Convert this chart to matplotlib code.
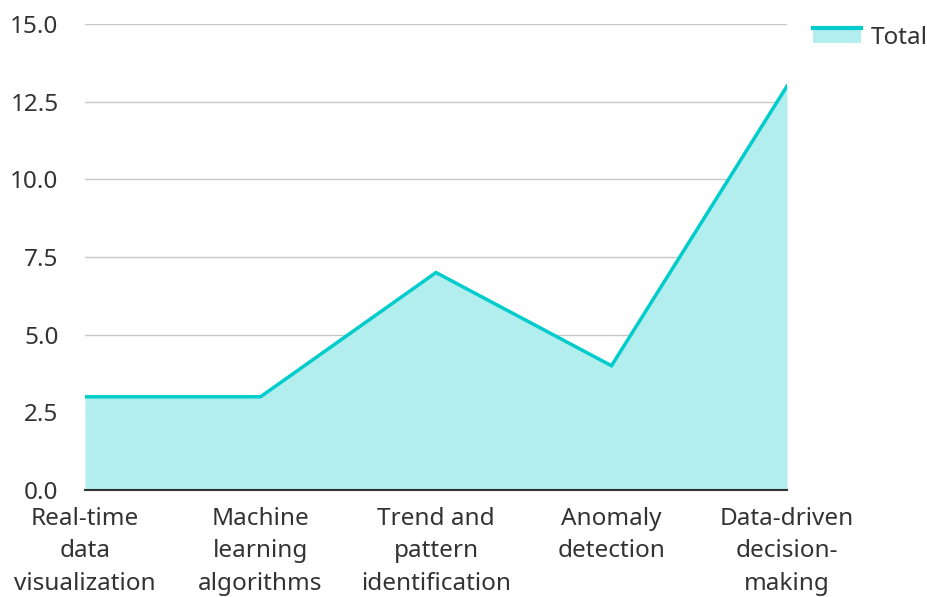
import matplotlib
matplotlib.use("Agg")
import matplotlib.pyplot as plt
from matplotlib.legend_handler import HandlerBase
from matplotlib.patches import Rectangle
from matplotlib.lines import Line2D

categories = [
    "Real-time\ndata\nvisualization",
    "Machine\nlearning\nalgorithms",
    "Trend and\npattern\nidentification",
    "Anomaly\ndetection",
    "Data-driven\ndecision-\nmaking",
]
totals = [3, 3, 7, 4, 13]
y_ticks = [0.0, 2.5, 5.0, 7.5, 10.0, 12.5, 15.0]

LINE = "#00cccc"
FILL = "#b2eeee"
TEXT = "#333333"
FS = 17.5

plt.rcParams["font.family"] = ["Noto Sans", "DejaVu Sans"]


class AreaHandler(HandlerBase):
    def create_artists(self, legend, orig, xd, yd, w, h, fontsize, trans):
        r = Rectangle((-xd, -yd), w, h, facecolor=FILL, edgecolor="none", transform=trans)
        ln = Line2D([-xd, -xd + w], [-yd + h, -yd + h], color=LINE, lw=3, transform=trans)
        return [r, ln]


fig = plt.figure(figsize=(9.28, 5.97), dpi=100)
ax = fig.add_axes([85 / 928, 1 - 490 / 597, (787 - 85) / 928, (490 - 24) / 597])

x = range(len(totals))
ax.fill_between(x, totals, 0, color=FILL, lw=0, zorder=1)
ax.plot(x, totals, color=LINE, lw=2.5, zorder=3, solid_joinstyle="miter")

ax.set_xlim(0, len(totals) - 1)
ax.set_ylim(0, 15)
ax.set_yticks(y_ticks)
ax.set_yticklabels([f"{v:.1f}" for v in y_ticks])
ax.set_xticks(list(x))
ax.set_xticklabels(categories, linespacing=1.45)
ax.grid(axis="y", color="#c8c8c8", lw=1, zorder=0)
ax.set_axisbelow(True)
for s in ["top", "right", "left"]:
    ax.spines[s].set_visible(False)
ax.spines["bottom"].set_color("#333333")
ax.spines["bottom"].set_linewidth(1.5)
ax.spines["bottom"].set_zorder(4)
ax.tick_params(axis="both", length=0, labelsize=FS, labelcolor=TEXT)
ax.tick_params(axis="y", pad=19)
ax.tick_params(axis="x", pad=12.5)

leg = fig.legend(
    [object()], ["Total"], handler_map={object: AreaHandler()},
    loc="center right", bbox_to_anchor=(1.0, 1 - 38 / 597), frameon=False,
    fontsize=FS, handlelength=2.0, handleheight=0.6, handletextpad=0.4,
    borderaxespad=0, borderpad=0, labelcolor=TEXT,
)

fig.savefig("out.png", dpi=100)
